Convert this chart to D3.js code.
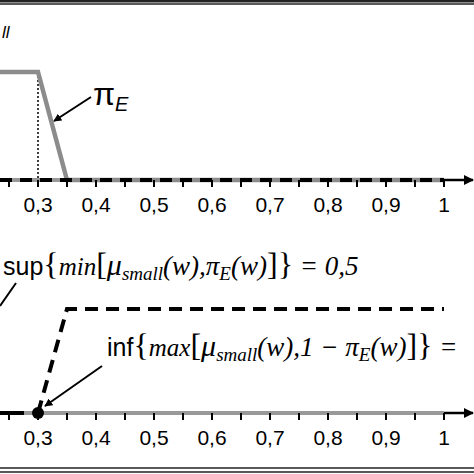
<!DOCTYPE html><html><head><meta charset="utf-8"><script src="https://cdn.jsdelivr.net/npm/d3@7"></script>
<style>body{margin:0;background:#fff}text{font-family:Arial,"Liberation Sans",sans-serif}</style></head><body><svg id="c" width="474" height="474"></svg>
<script>
const tickValues=[0.3,0.4,0.5,0.6,0.7,0.8,0.9,1];
const piW=[0.2,0.3,0.35,1];
const piV=[1,1,0,0];
const necW=[0.3,0.35,1];
const necV=[0,1,1];
const svg=d3.select("#c");
const x=d3.scaleLinear().domain([0.3,1]).range([38,444]);
const yTop=d3.scaleLinear().domain([0,1]).range([180,72]);
const yBot=d3.scaleLinear().domain([0,1]).range([413,309]);
const fmt=d=>String(d).replace(".",",");
const defs=svg.append("defs");
defs.append("marker").attr("id","ah").attr("viewBox","0 0 10 10").attr("refX",9).attr("refY",5).attr("markerWidth",4).attr("markerHeight",4).attr("orient","auto").append("path").attr("d","M0,0L10,5L0,10z").attr("fill","#000");
[[1,3],[4,1.5],[468,1.5],[472,1.5]].forEach(a=>svg.append("line").attr("x1",0).attr("x2",474).attr("y1",a[0]).attr("y2",a[0]).attr("stroke","#222").attr("stroke-width",a[1]));
function axisBase(y0,dashed){
  svg.append("line").attr("x1",0).attr("x2",444).attr("y1",y0).attr("y2",y0).attr("stroke","#999").attr("stroke-width",4);
  if(!dashed) svg.append("line").attr("x1",0).attr("x2",24).attr("y1",y0).attr("y2",y0).attr("stroke","#000").attr("stroke-width",4);
}
function axisTop(y0,dashed){
  const minor=d3.range(0.25,1.001,0.05);
  if(dashed) svg.append("line").attr("x1",0).attr("x2",444).attr("y1",y0).attr("y2",y0).attr("stroke","#000").attr("stroke-width",4).attr("stroke-dasharray","12,8");
  svg.append("line").attr("x1",444).attr("x2",473).attr("y1",y0).attr("y2",y0).attr("stroke","#000").attr("stroke-width",2.5).attr("marker-end","url(#ah)");
  svg.selectAll(null).data(minor).enter().append("line").attr("x1",d=>x(d)).attr("x2",d=>x(d)).attr("y1",y0).attr("y2",y0+7).attr("stroke","#000").attr("stroke-width",2);
  svg.selectAll(null).data(tickValues).enter().append("text").attr("x",d=>x(d)).attr("y",y0+32).attr("text-anchor","middle").attr("font-size",21).text(fmt);
}
svg.append("text").attr("x",2).attr("y",38).attr("font-size",17).attr("font-style","italic").text("ll");
axisBase(180,true);
svg.append("line").attr("x1",x(0.3)).attr("x2",x(0.3)).attr("y1",yTop(1)).attr("y2",yTop(0)).attr("stroke","#000").attr("stroke-width",1.5).attr("stroke-dasharray","2,2");
svg.append("path").attr("d",d3.line().x(d=>x(d[0])).y(d=>yTop(d[1]))(piW.map((w,i)=>[w,piV[i]]))).attr("fill","none").attr("stroke","#8c8c8c").attr("stroke-width",4.5);
axisTop(180,true);
svg.append("line").attr("x1",91).attr("x2",54).attr("y1",97).attr("y2",121).attr("stroke","#000").attr("stroke-width",2).attr("marker-end","url(#ah)");
const pt=svg.append("text").attr("x",93).attr("y",105).attr("font-size",32).text("π");
pt.append("tspan").attr("font-size",20).attr("font-style","italic").attr("dy",6).text("E");
axisBase(413,false);
axisTop(413,false);
svg.append("path").attr("d",d3.line().x(d=>x(d[0])).y(d=>yBot(d[1]))(necW.map((w,i)=>[w,necV[i]]))).attr("fill","none").attr("stroke","#000").attr("stroke-width",4).attr("stroke-dasharray","13,8");
svg.append("circle").attr("cx",x(0.3)).attr("cy",yBot(0)).attr("r",6).attr("fill","#000");
const serif="'Liberation Serif','DejaVu Serif',serif";
function formula(x0,y0,parts){
  const t=svg.append("text").attr("x",x0).attr("y",y0).attr("font-size",25);
  parts.forEach(p=>{const s=t.append("tspan").text(p[0]);
    if(p[1]) s.attr("font-family",serif).attr("font-style","italic"); else if(p[2]) s.attr("font-family",serif).attr("font-weight","100");
    if(p[3]) s.attr("font-size",p[3]); if(p[4]) s.attr("dy",p[4]);});
}
formula(3,275,[["sup"],["{",0,1,32],["min",1],["[",0,1,32],["μ",1,null,30],["small",1,null,19,5],["(w),π",1,null,27,-5],["E",1,null,19,5],["(w)",1,null,27,-5],["]}",0,1,32],[" = 0,5",1,null,27]]);
formula(107,356,[["inf"],["{",0,1,32],["max",1],["[",0,1,32],["μ",1,null,30],["small",1,null,19,5],["(w),1 − π",1,null,27,-5],["E",1,null,19,5],["(w)",1,null,27,-5],["]}",0,1,32],[" =",1,null,27]]);
svg.append("line").attr("x1",16).attr("x2",0).attr("y1",283).attr("y2",306).attr("stroke","#000").attr("stroke-width",2);
svg.append("line").attr("x1",102).attr("x2",45).attr("y1",366).attr("y2",406).attr("stroke","#000").attr("stroke-width",2).attr("marker-end","url(#ah)");
</script></body></html>
